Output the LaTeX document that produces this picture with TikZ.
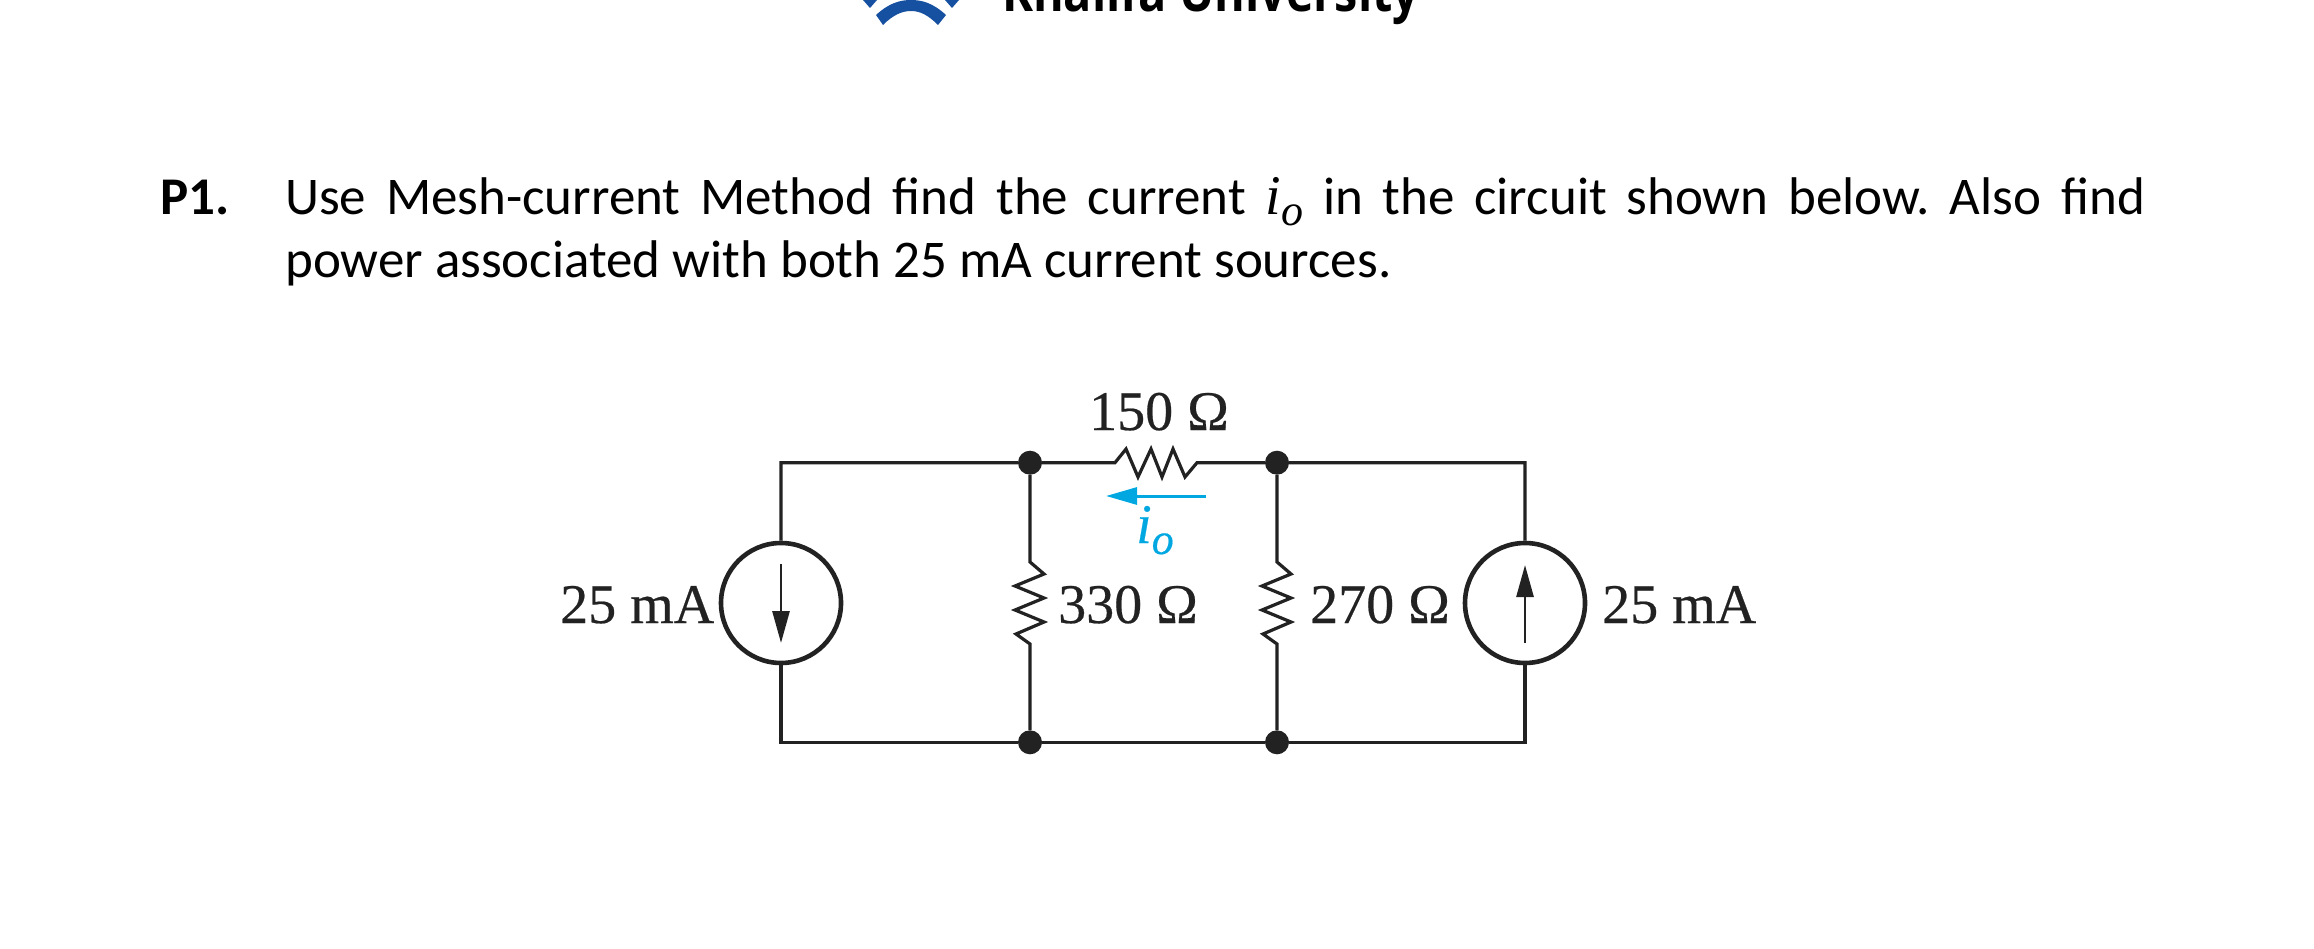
\documentclass[tikz,border=0pt]{standalone}
\usepackage{fontspec}
\usetikzlibrary{arrows.meta}
\setmainfont{Carlito}
\newfontfamily\circuitfont{Liberation Serif}[FakeBold=0.4]
\newfontfamily\logofont{Open Sans}[FakeStretch=0.85]
\definecolor{ink}{HTML}{222222}
\definecolor{cyanish}{HTML}{00A7E1}
\definecolor{logoblue}{HTML}{1650A0}
\tikzset{
  wire/.style={draw=ink,line width=3.2pt,line join=miter},
  junction/.style={circle,fill=ink,draw=none,minimum size=24pt,inner sep=0pt},
  source/.style={circle,draw=ink,line width=4.6pt,fill=white,minimum size=120pt,inner sep=0pt},
  srcarrow/.style={draw=ink,line width=2.8pt,-{Triangle[length=32pt,width=17pt]}},
  value/.style={anchor=base west,inner sep=0pt,text=ink,font=\circuitfont\fontsize{56}{60}\selectfont},
  prose/.style={anchor=base west,inner sep=0pt,text=black,font=\fontsize{53}{60}\selectfont},
}
\begin{document}
\frenchspacing
\begin{tikzpicture}[x=1pt,y=-1pt]
\useasboundingbox (0,0) rectangle (2314,949);
\clip (0,0) rectangle (2314,949);
% logo
\fill[logoblue] (876,15) .. controls (889,3) and (900,0) .. (911,0) .. controls (922,0) and (933,3) .. (946,15) -- (938,25) .. controls (928,15) and (920,11) .. (911,11) .. controls (902,11) and (893,15) .. (883,25) -- cycle;
\fill[logoblue] (863,0) -- (877,0) -- (870,8) -- cycle;
\fill[logoblue] (945,0) -- (959,0) -- (952,8) -- cycle;
\node[anchor=base west,inner sep=0pt,font=\logofont\bfseries\fontsize{55}{60}\selectfont] (logotext) at (1002,12) {Khalifa University};
% text
\node[prose,font=\bfseries\fontsize{53}{60}\selectfont] (pnum) at (160,214.5) {P1.};
\node[prose] (line1) at (285,214.5) {\makebox[1860pt][s]{Use Mesh-current Method find the current {\fontspec{Liberation Serif}\itshape\fontsize{56}{60}\selectfont i\raisebox{-11pt}{\fontsize{44}{44}\selectfont o}} in the circuit shown below. Also find}};
\node[prose] (line2) at (285,278) {power associated with both 25 mA current sources.};
% junctions and corners
\coordinate (ca) at (781,462.7);
\coordinate (cb) at (1525,462.7);
\coordinate (cc) at (781,742.3);
\coordinate (cd) at (1525,742.3);
\node[junction] (n1) at (1030,462.7) {};
\node[junction] (n2) at (1277,462.7) {};
\node[junction] (n3) at (1030,742.3) {};
\node[junction] (n4) at (1277,742.3) {};
\node[source] (s1) at (781,603) {};
\node[source] (s2) at (1525,603) {};
% wires
\draw[wire] (s1) -- (ca) -- (n1) -- (1115,462.7) -- (1126,449) -- (1138,477) -- (1151,449) -- (1162,477) -- (1173,449) -- (1185,477) -- (1197,462.7) -- (n2) -- (cb) -- (s2);
\draw[wire] (s1) -- (cc) -- (n3) -- (n4) -- (cd) -- (s2);
\draw[wire] (n1) -- (1030,562) -- (1044,574) -- (1015,586) -- (1044,598) -- (1015,610) -- (1044,622) -- (1016,634) -- (1030,644) -- (n3);
\draw[wire] (n2) -- (1277,562) -- (1291,574) -- (1262,586) -- (1291,598) -- (1262,610) -- (1291,622) -- (1263,634) -- (1277,644) -- (n4);
% source arrows
\coordinate (a1t) at (781,564);
\coordinate (a1h) at (781,643);
\coordinate (a2t) at (1525,643);
\coordinate (a2h) at (1525,565);
\draw[srcarrow] (a1t) -- (a1h);
\draw[srcarrow] (a2t) -- (a2h);
% current arrow
\coordinate (iot) at (1206,496);
\coordinate (ioh) at (1106,496);
\draw[draw=cyanish,line width=3pt,-{Triangle[length=31pt,width=17pt]}] (iot) -- (ioh);
\node[anchor=base west,inner sep=0pt,text=cyanish,font=\circuitfont\itshape\fontsize{56}{60}\selectfont] (io) at (1136,543) {i\raisebox{-11pt}{\fontsize{44}{44}\selectfont o}};
% labels
\node[value] (r1) at (1089,430) {150 Ω};
\node[value] (r2) at (1058,623) {330 Ω};
\node[value] (r3) at (1310,623) {270 Ω};
\node[value] (l1) at (560,623) {25 mA};
\node[value] (l2) at (1602,623) {25 mA};
\end{tikzpicture}
\end{document}
